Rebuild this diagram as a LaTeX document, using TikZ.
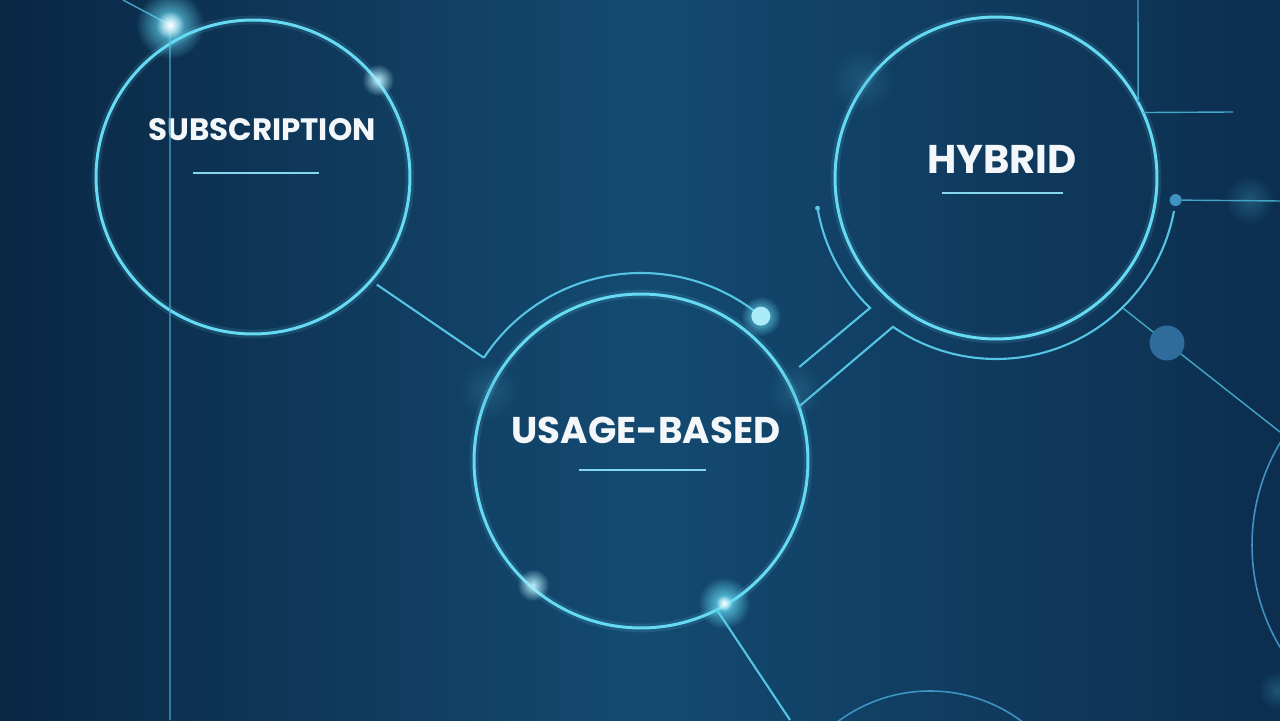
\documentclass[tikz,border=0pt]{standalone}
\usepackage{fontspec}
\setmainfont{Poppins}
\usetikzlibrary{calc,fadings}
\definecolor{bgL}{HTML}{0A2744}
\definecolor{bgM}{HTML}{144A71}
\definecolor{bgR}{HTML}{0C2E4F}
\definecolor{ringC}{HTML}{66DAF3}
\definecolor{lineC}{HTML}{55C3E3}
\definecolor{dimC}{HTML}{3F93C2}
\definecolor{dotC}{HTML}{2F6C9C}
\definecolor{txtC}{HTML}{F3F7FA}
\definecolor{ulC}{HTML}{86D6F0}
\tikzfading[name=glowfade, inner color=transparent!0, outer color=transparent!100]
\begin{document}
\begin{tikzpicture}[x=0.02cm,y=0.02cm,
  ring/.style={circle, draw=ringC, line width=1.7pt, inner sep=0pt, outer sep=0pt},
  halo/.style={draw=ringC, line width=5pt, opacity=0.13},
  conn/.style={draw=lineC, line width=1.2pt},
  thinline/.style={draw=lineC!75!bgM, line width=0.8pt},
  dimline/.style={draw=dimC, line width=0.9pt},
  lbl/.style={text=txtC, inner sep=0pt},
  uline/.style={draw=ulC, line width=1.1pt},
  dotnode/.style={circle, fill=#1, inner sep=0pt, outer sep=0pt},
  glow/.style={fill=#1, path fading=glowfade},
]
\useasboundingbox (0,0) rectangle (1280,720);
\clip (0,0) rectangle (1280,720);
\shade[left color=bgL, right color=bgR, middle color=bgM] (0,0) rectangle (1280,720);

% faint background circles
\draw[dimline] (930,-125) circle (154);
\draw[dimline] (1452,175) circle (200);

% halos
\draw[halo] (253,543) circle (157);
\draw[halo] (641,259) circle (167);
\draw[halo] (996,542) circle (161);

% main rings
\node[ring, minimum size=6.28cm] (sub) at (253,543) {};
\node[ring, minimum size=6.68cm] (use) at (641,259) {};
\node[ring, minimum size=6.44cm] (hyb) at (996,542) {};

% labels
\node[lbl, font=\bfseries\fontsize{17.6}{17.6}\selectfont] (subT) at (262,590) {SUBSCRIPTION};
\draw[uline] (193,547) -- (319,547);
\node[lbl, font=\bfseries\fontsize{22.8}{22.8}\selectfont] (hybT) at (1002,561) {HYBRID};
\draw[uline] (942,527) -- (1063,527);
\node[lbl, font=\bfseries\fontsize{21.2}{21.2}\selectfont] (useT) at (646,290) {USAGE-BASED};
\draw[uline] (579,250) -- (706,250);

% connector subscription -> usage outer arc
\coordinate (uL) at ($(use.center)+(146.7:188)$);
\coordinate (uR) at ($(use.center)+(50.4:188)$);
\coordinate (sOut) at ($(sub.center)+(-41:164)$);
\draw[conn] (sOut) -- (uL);
\draw[conn] (uL) arc[start angle=146.7, end angle=50.4, radius=188];
\fill[glow=ringC] (uR) circle (20);
\node[dotnode=ringC!55!white, minimum size=0.38cm] (udot) at (uR) {};

% hybrid outer arcs and bracket connectors
\coordinate (hA1) at ($(hyb.center)+(189.6:181)$);
\coordinate (hB1) at ($(hyb.center)+(235.3:181)$);
\coordinate (uJ1) at ($(use.center)+(30.7:184)$);
\draw[conn] (hA1) arc[start angle=189.6, end angle=225.9, radius=181] -- (uJ1);
\draw[conn] (use.19) -- (hB1) arc[start angle=235.3, end angle=349.5, radius=181];
\node[dotnode=lineC, minimum size=0.1cm] (hsd) at (hA1) {};
\node[dotnode=dimC, minimum size=0.24cm] (hrd) at ($(hyb.center)+(353:181)$) {};
\coordinate (edgeR1) at (1280,519);
\draw[thinline] (hrd) -- (edgeR1);

% lower-right line with dot
\coordinate (hOut) at ($(hyb.center)+(-45.7:182)$);
\node[dotnode=dotC, minimum size=0.7cm] (hbd) at (1167,377) {};
\coordinate (edgeR2) at (1280,288);
\draw[thinline] (hOut) -- (hbd) -- (edgeR2);

% usage -> bottom
\coordinate (edgeB) at (790,0);
\draw[conn] (use.-63) -- (edgeB);

% top-left lines
\coordinate (tlA) at (123,720);
\coordinate (tlG) at (170,695);
\coordinate (tlB) at (170,0);
\draw[thinline] (tlA) -- (tlG) -- (tlB);

% top-right lines
\coordinate (trA) at (1138,720);
\coordinate (trB) at (1233,608);
\draw[thinline] (trA) -- (hyb.28.2);
\draw[thinline] (hyb.24.2) -- (trB);

% glows
\fill[glow=ringC] (170,695) circle (34);
\fill[glow=white] (170,695) circle (14);
\fill[glow=ringC!50!white] (378,640) circle (16);
\fill[glow=ringC!50!white] (533,135) circle (16);
\fill[glow=ringC] (724,117) circle (26);
\fill[glow=white] (724,117) circle (8);
\fill[glow=ringC!60!bgM, opacity=0.25] (488,330) circle (30);
\fill[glow=ringC!60!bgM, opacity=0.25] (795,330) circle (28);
\fill[glow=ringC!60!bgM, opacity=0.25] (862,640) circle (32);
\fill[glow=ringC!60!bgM, opacity=0.35] (1250,520) circle (25);
\fill[glow=ringC!60!bgM, opacity=0.35] (1278,30) circle (20);
\end{tikzpicture}
\end{document}
